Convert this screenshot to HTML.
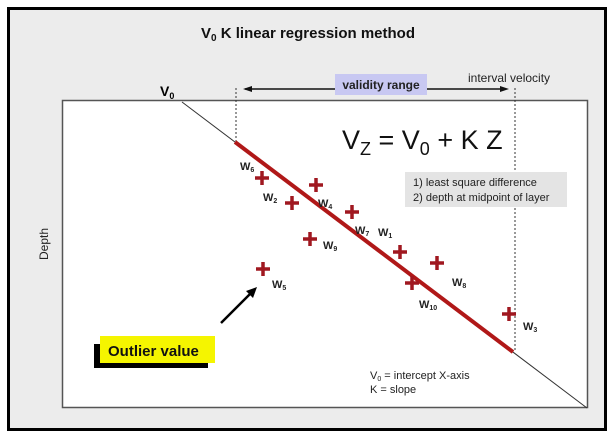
<!DOCTYPE html>
<html><head><meta charset="utf-8"><style>
html,body{margin:0;padding:0;background:#fff;}
svg{display:block;font-family:"Liberation Sans",Arial,sans-serif;}
</style></head><body>
<svg width="616" height="440" viewBox="0 0 616 440" xmlns="http://www.w3.org/2000/svg">
<rect x="0" y="0" width="616" height="440" fill="#fff"/>
<rect x="8.5" y="8.5" width="597" height="421" fill="#ececec" stroke="#000" stroke-width="3"/>
<text x="308" y="38" text-anchor="middle" font-size="15" font-weight="bold" fill="#111">V<tspan font-size="10" dy="3">0</tspan><tspan dy="-3"> K linear regression method</tspan></text>
<rect x="62.5" y="100.5" width="525" height="307" fill="#fff" stroke="#555" stroke-width="1.5"/>
<text x="160" y="96" font-size="14" font-weight="bold">V<tspan font-size="9" dy="3">0</tspan></text>
<text x="468" y="82" font-size="12" fill="#222">interval velocity</text>
<text x="48" y="244" font-size="12" fill="#222" transform="rotate(-90 48 244)" text-anchor="middle">Depth</text>
<!-- dotted verticals -->
<line x1="236" y1="88" x2="236" y2="143" stroke="#333" stroke-width="1" stroke-dasharray="2,2"/>
<line x1="515" y1="88" x2="515" y2="352" stroke="#333" stroke-width="1" stroke-dasharray="2,2"/>
<!-- arrow -->
<line x1="245" y1="89" x2="506" y2="89" stroke="#111" stroke-width="1.5"/>
<polygon points="243,89 252,86 252,92" fill="#111"/>
<polygon points="509,89 500,86 500,92" fill="#111"/>
<rect x="335" y="74" width="92" height="21" fill="#c8c8f2"/>
<text x="381" y="89" text-anchor="middle" font-size="12" font-weight="bold" fill="#222">validity range</text>
<!-- regression line -->
<line x1="182" y1="102" x2="587" y2="408" stroke="#333" stroke-width="1"/>
<line x1="235" y1="142" x2="513" y2="352" stroke="#b01818" stroke-width="4"/>
<!-- equation -->
<text x="342" y="149" font-size="27" fill="#111">V<tspan font-size="18" dy="6">Z</tspan><tspan dy="-6"> = V</tspan><tspan font-size="18" dy="6">0</tspan><tspan dy="-6"> + K Z</tspan></text>
<rect x="405" y="172" width="162" height="35" fill="#e4e4e4"/>
<text x="413" y="186" font-size="11" fill="#222">1) least square difference</text>
<text x="413" y="201" font-size="11" fill="#222">2) depth at midpoint of layer</text>
<!-- points -->
<g stroke="#a01820" stroke-width="3.5">
<path d="M255 178h14M262 171v14"/>
<path d="M285 203h14M292 196v14"/>
<path d="M309 185h14M316 178v14"/>
<path d="M345 212h14M352 205v14"/>
<path d="M303 239h14M310 232v14"/>
<path d="M393 252h14M400 245v14"/>
<path d="M430 263h14M437 256v14"/>
<path d="M405 283h14M412 276v14"/>
<path d="M502 314h14M509 307v14"/>
<path d="M256 269h14M263 262v14"/>
</g>
<g font-size="11" font-weight="bold" fill="#222">
<text x="240" y="170">W<tspan font-size="7" dy="2">6</tspan></text>
<text x="263" y="201">W<tspan font-size="7" dy="2">2</tspan></text>
<text x="318" y="207">W<tspan font-size="7" dy="2">4</tspan></text>
<text x="355" y="234">W<tspan font-size="7" dy="2">7</tspan></text>
<text x="378" y="236">W<tspan font-size="7" dy="2">1</tspan></text>
<text x="323" y="249">W<tspan font-size="7" dy="2">9</tspan></text>
<text x="452" y="286">W<tspan font-size="7" dy="2">8</tspan></text>
<text x="419" y="308">W<tspan font-size="7" dy="2">10</tspan></text>
<text x="523" y="330">W<tspan font-size="7" dy="2">3</tspan></text>
<text x="272" y="288">W<tspan font-size="7" dy="2">5</tspan></text>
</g>
<!-- outlier arrow -->
<line x1="221" y1="323" x2="252" y2="292" stroke="#000" stroke-width="2.5"/>
<polygon points="257,287 246,291 253,298" fill="#000"/>
<rect x="94" y="344" width="114" height="24" fill="#000"/>
<rect x="100" y="336" width="115" height="27" fill="#f5f500"/>
<text x="108" y="356" font-size="15" font-weight="bold" fill="#111">Outlier value</text>
<text x="370" y="379" font-size="11" fill="#222">V<tspan font-size="7" dy="2">0</tspan><tspan dy="-2"> = intercept X-axis</tspan></text>
<text x="370" y="393" font-size="11" fill="#222">K   = slope</text>
</svg>
</body></html>
